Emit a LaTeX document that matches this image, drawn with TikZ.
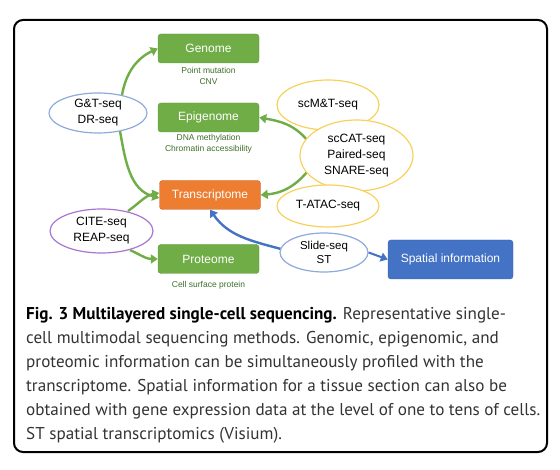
\documentclass[tikz,border=0pt]{standalone}
\usepackage{fontspec}
\setmainfont{Liberation Sans}
\newfontfamily\capfont{PT Sans}
\usetikzlibrary{shapes.geometric,arrows.meta}
\definecolor{boxgreen}{HTML}{70AD47}
\definecolor{boxgreenD}{HTML}{5E9A3A}
\definecolor{boxorange}{HTML}{ED7D31}
\definecolor{boxorangeD}{HTML}{C9692A}
\definecolor{boxblue}{HTML}{4472C4}
\definecolor{boxblueD}{HTML}{3A63AD}
\definecolor{subgreen}{HTML}{3F6E28}
\definecolor{elblue}{HTML}{8EAADB}
\definecolor{elpurple}{HTML}{A875D0}
\definecolor{elyellow}{HTML}{F8D15A}
\definecolor{captext}{HTML}{333333}
\begin{document}
\begin{tikzpicture}[x=1pt,y=-1pt,
  box/.style={rounded corners=3pt, minimum width=101pt, minimum height=29pt, text=white, inner sep=0pt, font=\fontsize{12}{14}\selectfont},
  gbox/.style={box, fill=boxgreen, draw=boxgreenD},
  obox/.style={box, fill=boxorange, draw=boxorangeD},
  bbox/.style={box, fill=boxblue, draw=boxblueD},
  sub/.style={text=subgreen, align=center, inner sep=0pt, font=\fontsize{8.5}{11}\selectfont},
  ell/.style={ellipse, fill=white, line width=1.2pt, inner sep=0pt, align=center, font=\fontsize{12}{16}\selectfont},
  garrow/.style={draw=boxgreen, line width=2.4pt, -{Triangle[length=7pt,width=9pt]}},
  barrow/.style={draw=boxblue, line width=2.4pt, -{Triangle[length=7pt,width=9pt]}}
]
\useasboundingbox (0,0) rectangle (560,470);
\draw[line width=2pt, rounded corners=9pt] (14,20) rectangle (547,452);

% boxes
\node[gbox] (genome) at (208.5,48.5) {Genome};
\node[gbox] (epi) at (208.5,117.5) {Epigenome};
\node[obox] (trans) at (210,195) {Transcriptome};
\node[gbox] (prot) at (208.5,259) {Proteome};
\node[bbox, minimum width=125pt, minimum height=39pt] (spatial) at (450.5,259.5) {Spatial information};

\node[sub] (pm) at (208.5,75.5) {Point mutation\\CNV};
\node[sub] (dna) at (208.5,143.5) {DNA methylation\\Chromatin accessibility};
\node[sub] (csp) at (208.5,285) {Cell surface protein};

% arrows (behind ellipses)
\coordinate (gtTop) at (122,95);
\coordinate (gtBot) at (120,131);
\draw[garrow] (gtTop) to[out=80,in=205] (genome.west);
\draw[garrow] (gtBot) to[out=-80,in=165] ([yshift=-3pt]trans.west);
\coordinate (citeTop) at (128,211);
\coordinate (citeBot) at (130,250);
\draw[garrow] (citeTop) to[out=35,in=190] ([yshift=2pt]trans.west);
\draw[garrow] (citeBot) to[out=-25,in=180] (prot.west);
\coordinate (catTop) at (307,140);
\coordinate (catBot) at (307,172);
\draw[garrow] (catTop) to[out=130,in=-10] (epi.east);
\draw[garrow] (catBot) to[out=-130,in=5] (trans.east);

% ellipses
\node[ell, draw=elblue, minimum width=98pt, minimum height=40pt] (gt) at (98,113) {G\&T-seq\\DR-seq};
\node[ell, draw=elpurple, minimum width=103pt, minimum height=44pt] (cite) at (101.5,231) {CITE-seq\\REAP-seq};
\node[ell, draw=elyellow, minimum width=102pt, minimum height=50pt] (scmt) at (328,105) {scM\&T-seq};
\node[ell, draw=elyellow, minimum width=113pt, minimum height=71pt] (sccat) at (356.5,155.5) {scCAT-seq\\Paired-seq\\SNARE-seq};
\node[ell, draw=elyellow, minimum width=102pt, minimum height=42pt] (tatac) at (328,206) {T-ATAC-seq};

\draw[barrow] (281,249) to[out=165,in=-55] (trans.south);
\node[ell, draw=elblue, minimum width=88pt, minimum height=39pt, font=\fontsize{11.5}{14}\selectfont] (slide) at (324,252.5) {Slide-seq\\ST};
\draw[barrow, line width=2pt] (slide.east) -- (spatial.west);

% caption
\node[anchor=north west, inner sep=0pt, align=left, text=captext,
  font=\capfont\fontsize{17.1}{24.1}\selectfont] (cap) at (26,307)
{\textbf{\color{black}Fig. 3 Multilayered single-cell sequencing.} Representative single-\\
cell multimodal sequencing methods. Genomic, epigenomic, and\\
proteomic information can be simultaneously profiled with the\\
transcriptome. Spatial information for a tissue section can also be\\
obtained with gene expression data at the level of one to tens of cells.\\
ST spatial transcriptomics (Visium).};
\end{tikzpicture}
\end{document}
